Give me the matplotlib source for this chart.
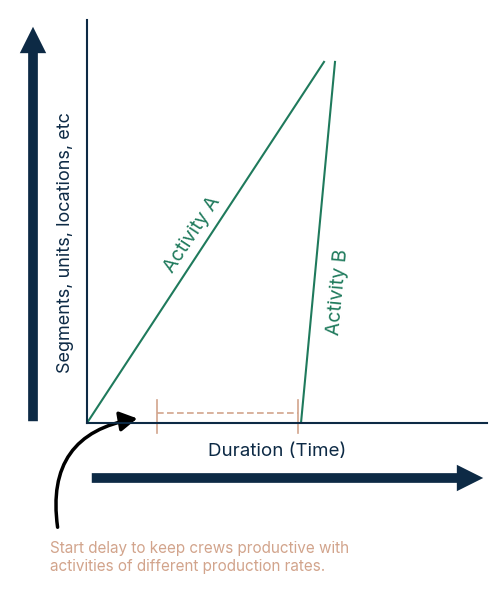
import matplotlib
matplotlib.use("Agg")
import matplotlib.pyplot as plt
from matplotlib.patches import FancyArrowPatch

activity_a_time = [0, 59.25]
activity_a_loc = [0, 89.6]
activity_b_time = [53.5, 62.0]
activity_b_loc = [0, 89.6]
delay_span = [17.5, 52.75]

NAVY = "#0d2a45"
GREEN = "#1f7a5c"
TAN = "#d2a48c"
FONT = "Inter"
W, H = 500, 591
fig = plt.figure(figsize=(5, 5.91), dpi=100)
bg = fig.add_axes([0, 0, 1, 1]); bg.set_xlim(0, W); bg.set_ylim(H, 0); bg.axis("off")
ax = fig.add_axes([87/W, 1-423/H, 400/W, 403/H])
ax.set_xlim(0, 100); ax.set_ylim(0, 100)
for s in ["top", "right"]:
    ax.spines[s].set_visible(False)
for s in ["left", "bottom"]:
    ax.spines[s].set_color(NAVY); ax.spines[s].set_linewidth(1.5)
ax.set_xticks([]); ax.set_yticks([]); ax.patch.set_alpha(0)

ax.plot(activity_a_time, activity_a_loc, color=GREEN, lw=1.5)
ax.plot(activity_b_time, activity_b_loc, color=GREEN, lw=1.5)
for x in delay_span:
    ax.plot([x, x], [-2.5, 5.7], color=TAN, lw=1.2, clip_on=False)
ax.plot(delay_span, [2.5, 2.5], color=TAN, lw=1.2, ls=(0, (4, 2)))

bg.text(192, 235, "Activity A", rotation=56.7, color=GREEN, fontsize=14,
        family=FONT, ha="center", va="center")
bg.text(338, 292, "Activity B", rotation=84.6, color=GREEN, fontsize=14,
        family=FONT, ha="center", va="center")
bg.text(277, 452, "Duration (Time)", color=NAVY, fontsize=13.5, family=FONT,
        ha="center", va="center")
bg.text(65, 243, "Segments, units, locations, etc", rotation=90, color=NAVY,
        fontsize=13, family=FONT, ha="center", va="center")
bg.text(50, 557, "Start delay to keep crews productive with\nactivities of different production rates.",
        color=TAN, fontsize=11, family=FONT, ha="left", va="center", linespacing=1.25)

style = "simple,head_width=1.9,head_length=1.9,tail_width=0.7"
bg.add_patch(FancyArrowPatch((33, 424), (33, 24), arrowstyle=style,
                             mutation_scale=10, color=NAVY, lw=0))
bg.add_patch(FancyArrowPatch((89, 478), (486, 478), arrowstyle=style,
                             mutation_scale=10, color=NAVY, lw=0))
bg.add_patch(FancyArrowPatch((58, 530), (140, 418), connectionstyle="arc3,rad=-0.5",
                             arrowstyle="-|>,head_width=4,head_length=7", mutation_scale=1.5,
                             color="black", lw=2.5))
fig.savefig("out.png", dpi=100)
